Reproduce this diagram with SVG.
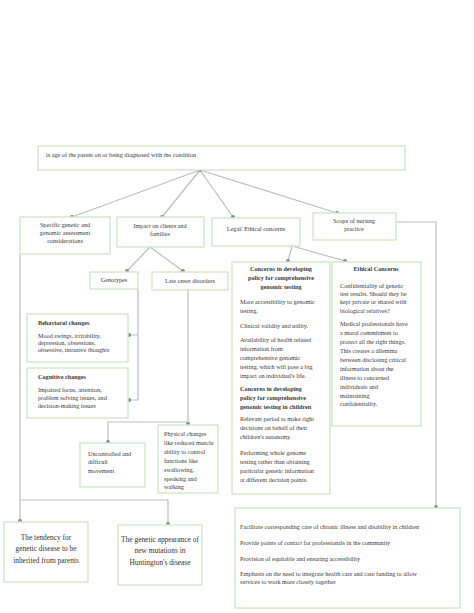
<svg xmlns="http://www.w3.org/2000/svg" width="474" height="613" viewBox="0 0 474 613">
<defs>
<style>
.box{fill:#ffffff;stroke:#d3e6c8;stroke-width:1.4}
.t{font-family:"Liberation Serif","Times New Roman",serif;font-size:6.2px;fill:#3a3a3a}
.b{font-weight:bold}
.big{font-family:"Liberation Serif","Times New Roman",serif;font-size:7.4px;fill:#333}
.c{text-anchor:middle}
.ln{fill:none;stroke:#bdbdbd;stroke-width:1.2}
.dot{fill:#8a8a8a}
</style>
</defs>
<rect width="474" height="613" fill="#ffffff"/>
<g id="connectors">
<path class="ln" d="M200,170 L72,217 M200,170 L162,217 M200,170 L233,217 M200,170 L337,213"/>
<path class="ln" d="M150,247 L127,271 M150,247 L183,271"/>
<path class="ln" d="M292,246 L288,261 M292,246 L345,261"/>
<path class="ln" d="M138,289 L138,400 L129,400 M138,335 L129,335"/>
<path class="ln" d="M188,290 L188,424 M188,422 L108,422 L108,442"/>
<path class="ln" d="M20,254 L20,521 M20,500 L168,500 L168,524"/>
<path class="ln" d="M396,222 L436,222 L436,507"/>
<circle class="dot" cx="200" cy="170" r="2"/>
<circle class="dot" cx="72" cy="217" r="2"/>
<circle class="dot" cx="162" cy="217" r="2"/>
<circle class="dot" cx="233" cy="217" r="2"/>
<circle class="dot" cx="337" cy="213" r="2"/>
<circle class="dot" cx="127" cy="271" r="2"/>
<circle class="dot" cx="183" cy="271" r="2"/>
<circle class="dot" cx="288" cy="261" r="2"/>
<circle class="dot" cx="345" cy="261" r="2"/>
<circle class="dot" cx="129" cy="335" r="2"/>
<circle class="dot" cx="129" cy="400" r="2"/>
<circle class="dot" cx="108" cy="442" r="2"/>
<circle class="dot" cx="188" cy="424" r="2"/>
<circle class="dot" cx="20" cy="521" r="2"/>
<circle class="dot" cx="168" cy="524" r="2"/>
<circle class="dot" cx="436" cy="507" r="2"/>
</g>
<g id="top">
<rect class="box" x="38" y="146" width="367" height="24"/>
<text class="t" x="46" y="157">is age of the parent on or being diagnosed with the condition</text>
</g>
<g id="specific">
<rect class="box" x="20" y="217" width="90" height="37"/>
<text class="t c" x="65" y="227">Specific genetic and</text>
<text class="t c" x="65" y="235">genomic assessment</text>
<text class="t c" x="65" y="243">considerations</text>
</g>
<g id="impact">
<rect class="box" x="117" y="217" width="87" height="30"/>
<text class="t c" x="160" y="228">Impact on clients and</text>
<text class="t c" x="160" y="236">families</text>
</g>
<g id="legal">
<rect class="box" x="212" y="218" width="88" height="28"/>
<text class="t c" x="256" y="231">Legal/ Ethical concerns</text>
</g>
<g id="scope">
<rect class="box" x="313" y="213" width="83" height="27"/>
<text class="t c" x="354" y="223">Scope of nursing</text>
<text class="t c" x="354" y="231">practice</text>
</g>
<g id="genotypes">
<rect class="box" x="90" y="272" width="48" height="17"/>
<text class="t c" x="114" y="282">Genotypes</text>
</g>
<g id="lateonset">
<rect class="box" x="152" y="272" width="76" height="18"/>
<text class="t c" x="190" y="283">Late onset disorders</text>
</g>
<g id="behavioral">
<rect class="box" x="27" y="314" width="101" height="48"/>
<text class="t b" x="38" y="325">Behavioral changes</text>
<text class="t" x="38" y="338">Mood swings, irritability,</text>
<text class="t" x="38" y="345">depression, obsessions,</text>
<text class="t" x="38" y="352">obsessive, intrusive thoughts</text>
</g>
<g id="cognitive">
<rect class="box" x="27" y="368" width="101" height="50"/>
<text class="t b" x="38" y="379">Cognitive changes</text>
<text class="t" x="38" y="392">Impaired focus, attention,</text>
<text class="t" x="38" y="400">problem solving issues, and</text>
<text class="t" x="38" y="408">decision-making issues</text>
</g>
<g id="uncontrolled">
<rect class="box" x="80" y="443" width="65" height="44"/>
<text class="t" x="88" y="456">Uncontrolled and</text>
<text class="t" x="88" y="464">difficult</text>
<text class="t" x="88" y="473">movement</text>
</g>
<g id="physical">
<rect class="box" x="158" y="425" width="60" height="68"/>
<text class="t" x="164" y="436">Physical changes</text>
<text class="t" x="164" y="445">like reduced muscle</text>
<text class="t" x="164" y="454">ability to control</text>
<text class="t" x="164" y="463">functions like</text>
<text class="t" x="164" y="472">swallowing,</text>
<text class="t" x="164" y="481">speaking and</text>
<text class="t" x="164" y="489">walking</text>
</g>
<g id="concerns">
<rect class="box" x="232" y="262" width="98" height="232"/>
<text class="t b c" x="281" y="271">Concerns in developing</text>
<text class="t b c" x="281" y="280">policy for comprehensive</text>
<text class="t b c" x="281" y="289">genomic testing</text>
<text class="t" x="240" y="304">More accessibility to genomic</text>
<text class="t" x="240" y="313">testing.</text>
<text class="t" x="240" y="328">Clinical validity and utility.</text>
<text class="t" x="240" y="342">Availability of health related</text>
<text class="t" x="240" y="351">information from</text>
<text class="t" x="240" y="360">comprehensive genomic</text>
<text class="t" x="240" y="369">testing, which will pose a big</text>
<text class="t" x="240" y="378">impact on individual's life.</text>
<text class="t b" x="240" y="391">Concerns in developing</text>
<text class="t b" x="240" y="400">policy for comprehensive</text>
<text class="t b" x="240" y="409">genomic testing in children</text>
<text class="t" x="240" y="421">Relevant period to make right</text>
<text class="t" x="240" y="430">decisions on behalf of their</text>
<text class="t" x="240" y="439">children's autonomy.</text>
<text class="t" x="240" y="455">Performing whole genome</text>
<text class="t" x="240" y="464">testing rather than obtaining</text>
<text class="t" x="240" y="473">particular genetic information</text>
<text class="t" x="240" y="482">at different decision points.</text>
</g>
<g id="ethical">
<rect class="box" x="332" y="262" width="89" height="164"/>
<text class="t b c" x="376" y="271">Ethical Concerns</text>
<text class="t" x="340" y="288">Confidentiality of genetic</text>
<text class="t" x="340" y="296">test results. Should they be</text>
<text class="t" x="340" y="304">kept private or shared with</text>
<text class="t" x="340" y="313">biological relatives?</text>
<text class="t" x="340" y="326">Medical professionals have</text>
<text class="t" x="340" y="335">a moral commitment to</text>
<text class="t" x="340" y="344">protect all the right things.</text>
<text class="t" x="340" y="353">This creates a dilemma</text>
<text class="t" x="340" y="362">between disclosing critical</text>
<text class="t" x="340" y="371">information about the</text>
<text class="t" x="340" y="380">illness to concerned</text>
<text class="t" x="340" y="389">individuals and</text>
<text class="t" x="340" y="398">maintaining</text>
<text class="t" x="340" y="406">confidentiality.</text>
</g>
<g id="tendency">
<rect class="box" x="4" y="522" width="84" height="60"/>
<text class="big c" x="46" y="540">The tendency for</text>
<text class="big c" x="46" y="551">genetic disease to be</text>
<text class="big c" x="46" y="563">inherited from parents</text>
</g>
<g id="appearance">
<rect class="box" x="118" y="525" width="84" height="60"/>
<text class="big c" x="160" y="542">The genetic appearance of</text>
<text class="big c" x="160" y="553">new mutations in</text>
<text class="big c" x="160" y="565">Huntington's disease</text>
</g>
<g id="nursing">
<rect class="box" x="235" y="508" width="225" height="100"/>
<text class="t" x="240" y="529">Facilitate corresponding care of chronic illness and disability in children</text>
<text class="t" x="240" y="545">Provide points of contact for professionals in the community</text>
<text class="t" x="240" y="561">Provision of equitable and ensuring accessibility</text>
<text class="t" x="240" y="576">Emphasis on the need to integrate health care and care funding to allow</text>
<text class="t" x="240" y="584">services to work more closely together</text>
</g>
</svg>
